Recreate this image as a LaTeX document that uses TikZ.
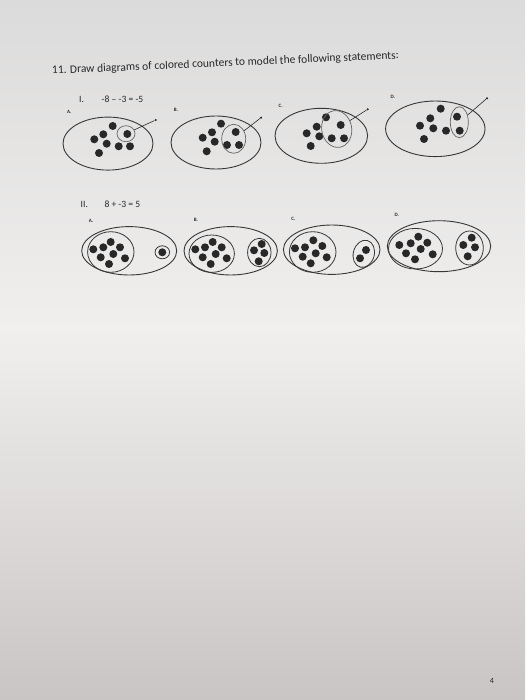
\documentclass[tikz,border=0pt]{standalone}
\usepackage{fontspec}
\setmainfont{Carlito}
\usetikzlibrary{shapes.geometric}
\definecolor{ink}{RGB}{40,40,40}
\definecolor{lineink}{RGB}{55,55,55}
\definecolor{grayink}{RGB}{100,100,100}
\definecolor{pagetop}{RGB}{220,219,219}
\definecolor{pagemid}{RGB}{240,239,238}
\definecolor{pagebot}{RGB}{202,197,197}
\newcommand\putcounters[2]{\foreach \px/\py [count=\i] in {#2} {\node[ctr, name=#1\i] at (\px,\py) {};}}
\tikzset{
  ctr/.style={circle, fill=ink, inner sep=0pt, minimum size=8pt},
  outerell/.style={ellipse, draw=lineink, line width=0.9pt, inner sep=0pt},
  innerell/.style={ellipse, draw=grayink, line width=0.7pt, inner sep=0pt},
  groupell/.style={ellipse, draw=lineink, line width=0.8pt, inner sep=0pt},
  enddot/.style={circle, fill=ink, inner sep=0pt, minimum size=2.4pt},
  pointer/.style={draw=ink, line width=0.6pt},
  lbl/.style={font=\bfseries\fontsize{5}{6}\selectfont, text=ink, inner sep=0pt},
  eq/.style={font=\fontsize{9.6}{11}\selectfont, text=ink, inner sep=0pt, anchor=west},
}
\begin{document}
\begin{tikzpicture}[x=1pt, y=-1pt]
\useasboundingbox (0,0) rectangle (525,700);
\shade[top color=pagetop, bottom color=pagemid] (0,0) rectangle (525,330);
\shade[top color=pagemid, bottom color=pagebot] (0,329.5) rectangle (525,700);

% title
\node[anchor=base west, inner sep=0pt, rotate=2.5, text=ink, font=\fontsize{11.5}{13}\selectfont] (title) at (52,74) {11. Draw diagrams of colored counters to model the following statements:};

% ---------- Part I ----------
\node[eq] (numI) at (79,99) {I.};
\node[eq] (eqI) at (101.5,99) {-8 -- -3 = -5};
\node[lbl] (lIA) at (69.3,111.7) {A.};
\node[lbl] (lIB) at (176,110) {B.};
\node[lbl] (lIC) at (280.7,105.7) {C.};
\node[lbl] (lID) at (392.7,97) {D.};

% I.A
\node[outerell, minimum width=90pt, minimum height=53pt] (oIA) at (108,143.6) {};
\putcounters{cIA}{112.7/126, 103.3/134.3, 94.3/139.3, 106.7/143.7, 118.7/146.3, 130/146.3, 99/153, 127.3/134}
\node[innerell, minimum width=18pt, minimum height=16pt] (iIA) at (126,133.7) {};
\node[enddot] (dIA) at (155.7,120) {};
\draw[pointer] (iIA) -- (dIA);

% I.B
\node[outerell, minimum width=90pt, minimum height=53pt] (oIB) at (216,142.5) {};
\putcounters{cIB}{221/123.7, 212/132.3, 202.7/137.7, 214.7/141.7, 206.7/151.3, 235.7/132, 227/145, 239/145}
\node[innerell, minimum width=24pt, minimum height=29pt] (iIB) at (233.7,138.8) {};
\node[enddot] (dIB) at (261,117.7) {};
\draw[pointer] (iIB) -- (dIB);

% I.C
\node[outerell, minimum width=92.6pt, minimum height=55pt] (oIC) at (321.3,135.8) {};
\putcounters{cIC}{326/117.3, 316.7/126.7, 306.7/133.3, 319.3/136.3, 310.7/146, 340.7/125, 331.7/138.3, 344/138.3}
\node[innerell, minimum width=30pt, minimum height=37pt, rotate=10] (iIC) at (336.7,129) {};
\node[enddot] (dIC) at (367.7,109.3) {};
\draw[pointer] (iIC) -- (dIC);

% I.D
\node[outerell, minimum width=99.4pt, minimum height=55.6pt] (oID) at (435.3,128.8) {};
\putcounters{cID}{440.7/108.7, 430.3/118.3, 420/125.7, 433.3/128.3, 424/139, 446/130.7, 457/116.7, 459.7/130.7}
\node[innerell, minimum width=18pt, minimum height=31pt] (iID) at (459.3,122.2) {};
\node[enddot] (dID) at (487,98.3) {};
\draw[pointer] (iID) -- (dID);

% ---------- Part II ----------
\node[eq] (numII) at (80.5,204) {II.};
\node[eq] (eqII) at (104.3,204) {8 + -3 = 5};
\node[lbl] (lIIA) at (91,221) {A.};
\node[lbl] (lIIB) at (196,220) {B.};
\node[lbl] (lIIC) at (293.3,219.3) {C.};
\node[lbl] (lIID) at (396.7,215) {D.};

% II.A
\node[outerell, minimum width=95pt, minimum height=48.4pt] (oIIA) at (129.2,250.8) {};
\node[groupell, minimum width=46.4pt, minimum height=40.6pt] (gIIA) at (110.8,252) {};
\putcounters{cIIA}{110.7/242, 103.3/247.3, 93.3/249.3, 120/247.3, 113.3/254, 100.7/257.3, 125/258.3, 109/264}
\node[groupell, minimum width=14.6pt, minimum height=13pt] (sIIA) at (162.3,252.3) {};
\putcounters{kIIA}{162.3/252.3}

% II.B
\node[outerell, minimum width=93.4pt, minimum height=48.4pt] (oIIB) at (230.7,250.8) {};
\node[groupell, minimum width=45.4pt, minimum height=37.4pt] (gIIB) at (211.7,253.7) {};
\putcounters{cIIB}{212.7/242, 205/247.3, 195.3/249.3, 221.7/247.3, 215.7/254, 202.7/257.3, 226.7/258.3, 210.7/264}
\node[groupell, minimum width=23.4pt, minimum height=28.4pt] (sIIB) at (259.3,252.5) {};
\putcounters{kIIB}{261.7/244, 254/250.3, 264.3/253, 258.7/261.3}

% II.C
\node[outerell, minimum width=96.6pt, minimum height=49.4pt] (oIIC) at (331.7,249.7) {};
\node[groupell, minimum width=46.6pt, minimum height=40.6pt] (gIIC) at (312.7,252) {};
\putcounters{cIIC}{313.3/240.3, 305/247.3, 295/248.3, 322.3/246, 315.7/253.3, 302.7/256.7, 326.7/257.3, 310.7/263.3}
\node[groupell, minimum width=21pt, minimum height=27.6pt, rotate=-15] (sIIC) at (363.8,253.8) {};
\putcounters{kIIC}{366/250, 360/258.3}

% II.D
\node[outerell, minimum width=103.4pt, minimum height=51pt] (oIID) at (439,246.2) {};
\node[groupell, minimum width=54pt, minimum height=40.6pt] (gIID) at (415.5,248.7) {};
\putcounters{cIID}{418.3/236.7, 410.7/243.3, 399.3/245, 427.3/242.7, 420.7/249, 406/253.3, 432.7/254.3, 415/259.3}
\node[groupell, minimum width=27.6pt, minimum height=34pt] (sIID) at (469.5,248) {};
\putcounters{kIID}{471.7/237.7, 463.3/245, 475/247.3, 467.7/256.3}

% page number
\node[text=ink, inner sep=0pt, font=\fontsize{8}{9}\selectfont] (pagenum) at (492,681) {4};
\end{tikzpicture}
\end{document}
